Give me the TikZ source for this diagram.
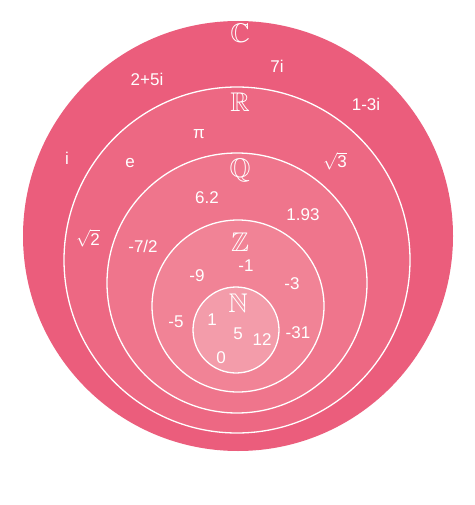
\documentclass[tikz,border=0pt]{standalone}
\usepackage{amssymb}
\usepackage{fontspec}
\setmainfont{Liberation Sans}
\definecolor{setC}{RGB}{235,93,124}
\definecolor{setR}{RGB}{237,104,131}
\definecolor{setQ}{RGB}{239,117,140}
\definecolor{setZ}{RGB}{241,131,150}
\definecolor{setN}{RGB}{243,156,170}

\begin{document}
\begin{tikzpicture}[x=1pt,y=-1pt]
        \tikzstyle{every node}=[font=\fontsize{17}{17}\selectfont,text=white,inner sep=0pt]
        \tikzstyle{setname}=[font=\fontsize{27}{27}\selectfont]
        \useasboundingbox (0,0) rectangle (474,505);
        \fill[white] (0,0) rectangle (474,505);
        \begin{scope}
           % nested sets
           \fill[setC] (238,236) circle (215pt);
           \filldraw[setR,draw=white,line width=1.3pt] (237,260) circle (173pt);
           \filldraw[setQ,draw=white,line width=1.3pt] (237,283) circle (130pt);
           \filldraw[setZ,draw=white,line width=1.3pt] (238,306) circle (86pt);
           \filldraw[setN,draw=white,line width=1.3pt] (236,330) circle (43pt);

           % complex
           \node[setname] (nameC) at (240,33) {$\mathbb{C}$};
           \node (c7i) at (277,66) {7i};
           \node (c25i) at (147,79) {2+5i};
           \node (c13i) at (366,104) {1-3i};
           \node (ci) at (67,158) {i};

           % real
           \node[setname] (nameR) at (240,102) {$\mathbb{R}$};
           \node (rpi) at (199,134) {π};
           \node (re) at (130,163) {e};
           \node (rsq3) at (335,161) {$\sqrt{\mbox{3}}$};
           \node (rsq2) at (88,238) {$\sqrt{\mbox{2}}$};

           % rational
           \node[setname] (nameQ) at (240,170) {$\mathbb{Q}$};
           \node (q62) at (207,198) {6.2};
           \node (q193) at (303,215) {1.93};
           \node (q72) at (143,246) {-7/2};

           % integer
           \node[setname] (nameZ) at (240,242) {$\mathbb{Z}$};
           \node (zm1) at (246,266) {-1};
           \node (zm9) at (197,276) {-9};
           \node (zm3) at (292,284) {-3};
           \node (zm5) at (176,322) {-5};
           \node (zm31) at (298,333) {-31};

           % natural
           \node[setname] (nameN) at (238,303) {$\mathbb{N}$};
           \node (n1) at (212,320) {1};
           \node (n5) at (238,334) {5};
           \node (n12) at (262,340) {12};
           \node (n0) at (221,358) {0};
        \end{scope}
\end{tikzpicture}
\end{document}
